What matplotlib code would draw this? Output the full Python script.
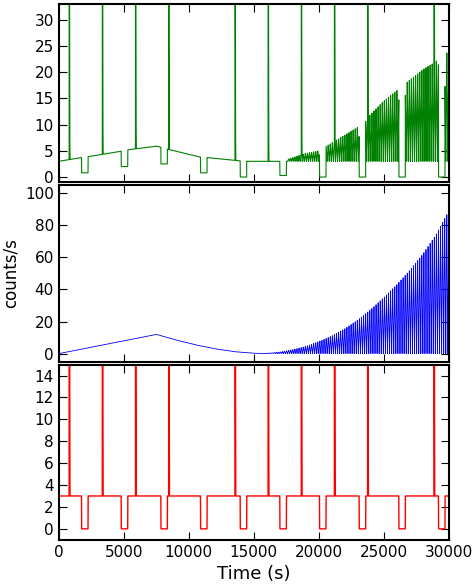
import numpy as np
import matplotlib
matplotlib.use("Agg")
import matplotlib.pyplot as plt

# --- data ---
spike_times = [800, 3350, 5900, 8450, 13550, 16100, 18650, 21200, 23750, 28850]
dip_starts = [1750, 4800, 7850, 10900, 13950, 17000, 20050, 23100, 26150, 29200]
dip_ends = [2250, 5300, 8350, 11400, 14450, 17500, 20550, 23600, 26650, 29700]
green_dip_levels = [0.8, 2.0, 2.5, 0.8, 0.0, 0.3, 0.0, 0.0, 0.0, 0.0]
red_dip_levels = [0, 0, 0, 0, 0, 0, 0, 0, 0, 0]

green_base_t = [0, 1700, 2300, 4750, 5350, 7500, 8400, 10850, 11450, 13900, 14500, 30000]
green_base_v = [3.0, 3.7, 3.9, 4.9, 5.2, 5.9, 5.3, 3.8, 3.7, 3.1, 3.0, 3.0]
green_env_t = [17600, 19000, 20000, 21000, 22000, 23000, 24000, 25000, 26000, 27000, 28000, 29000, 30000]
green_env_v = [3.4, 4.5, 5.0, 6.5, 8.0, 9.5, 12.0, 14.5, 16.5, 18.5, 20.5, 22.0, 24.0]

blue_base_t = [0, 7500, 9000, 10500, 12000, 13500, 15000, 16000, 30000]
blue_base_v = [0.0, 12.0, 8.5, 5.5, 3.0, 1.2, 0.2, 0.0, 0.0]
blue_env_t = [16000, 17000, 18000, 19000, 20000, 21000, 22000, 23000, 24000, 25000, 26000, 27000, 28000, 29000, 30000]
blue_env_v = [0.3, 1.0, 2.5, 4.5, 7.5, 11.0, 15.5, 21.0, 27.5, 35.0, 43.0, 52.0, 62.0, 74.0, 89.0]

x_ticks = [0, 5000, 10000, 15000, 20000, 25000, 30000]
period = 160.0

t = np.arange(0, 30001, 4.0)

def apply_dips(y, levels):
    y = y.copy()
    for s, e, lv in zip(dip_starts, dip_ends, levels):
        m = (t >= s) & (t <= e)
        y[m] = lv
    return y

def apply_spikes(y):
    y = y.copy()
    for st in spike_times:
        m = (t >= st) & (t < st + 70)
        y[m] = y[m] + 200 * (1 - (t[m] - st) / 70) ** 3
    return y

def osc(env_t, env_v, floor):
    e = np.interp(t, env_t, env_v)
    phase = (t % period) / period
    tri = np.where(phase < 0.5, phase * 2, 2 - phase * 2)
    return floor + (e - floor) * tri

green = np.interp(t, green_base_t, green_base_v)
gm = t >= green_env_t[0]
green[gm] = osc(green_env_t, green_env_v, 3.0)[gm]
green = apply_spikes(apply_dips(green, green_dip_levels))

blue = np.interp(t, blue_base_t, blue_base_v)
bm = t >= blue_env_t[0]
blue[bm] = osc(blue_env_t, blue_env_v, 0.0)[bm]

red = np.full_like(t, 3.0)
red = apply_spikes(apply_dips(red, red_dip_levels))

fig = plt.figure(figsize=(4.74, 5.88), dpi=100, facecolor="white")
L, W = 0.124, 0.823
ax1 = fig.add_axes([L, 0.690, W, 0.303])
ax2 = fig.add_axes([L, 0.385, W, 0.300])
ax3 = fig.add_axes([L, 0.082, W, 0.298])

ax1.plot(t, green, color=(0, 0.5, 0), lw=0.8)
ax2.plot(t, blue, color="b", lw=0.6)
ax3.plot(t, red, color="r", lw=1)

ax1.set_ylim(-1, 33); ax1.set_yticks([0, 5, 10, 15, 20, 25, 30])
ax2.set_ylim(-5, 105); ax2.set_yticks([0, 20, 40, 60, 80, 100])
ax3.set_ylim(-1, 15); ax3.set_yticks([0, 2, 4, 6, 8, 10, 12, 14])
for ax in (ax1, ax2, ax3):
    ax.set_xlim(0, 30000)
    ax.set_xticks(x_ticks)
    ax.tick_params(direction="in", top=True, right=True, length=6, labelsize=11)
    for s in ax.spines.values():
        s.set_linewidth(1.5)
ax1.set_xticklabels([]); ax2.set_xticklabels([])
ax3.set_xlabel("Time (s)", fontsize=13)
ax2.set_ylabel("counts/s", fontsize=12)

fig.savefig("out.png", dpi=100, facecolor="white")
